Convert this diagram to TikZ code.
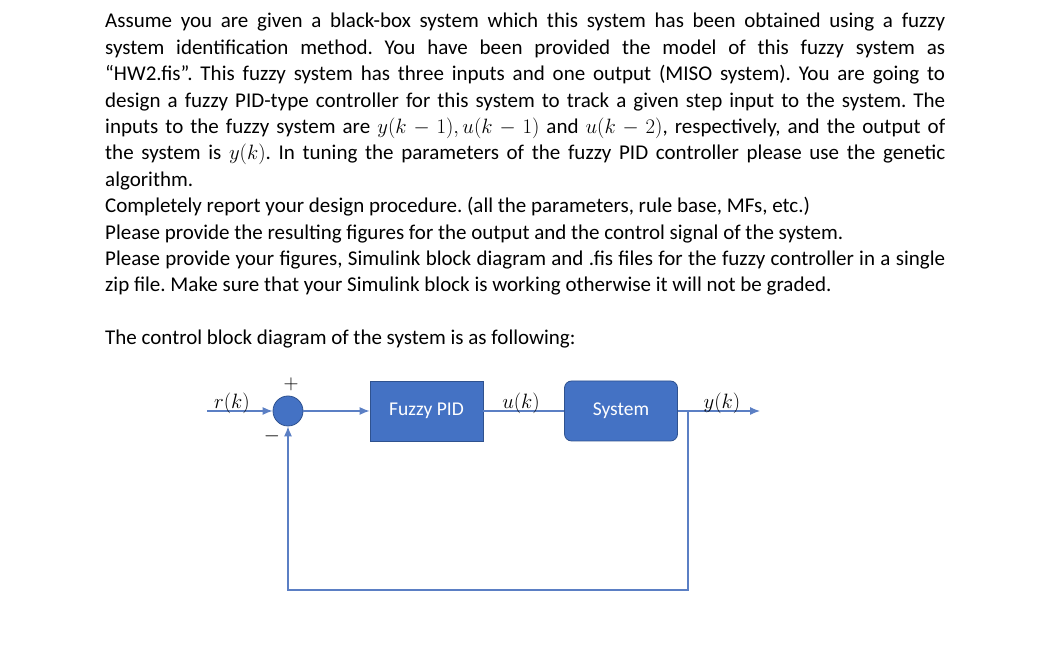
\documentclass[tikz,border=0pt]{standalone}
\usepackage{fontspec}
\setmainfont{Carlito}
\usetikzlibrary{arrows.meta}
\definecolor{bfill}{HTML}{4472C4}
\definecolor{bdraw}{HTML}{2F528F}
\definecolor{wire}{HTML}{5B7FC4}
\frenchspacing
\begin{document}
\begin{tikzpicture}[x=1pt,y=1pt,
  txt/.style={anchor=base west,inner sep=0pt,font=\fontsize{21}{26.4}\selectfont},
  blk/.style={draw=bdraw,fill=bfill,text=white,minimum width=113pt,minimum height=60pt,font=\fontsize{19.5}{20}\selectfont,line width=0.8pt},
  wr/.style={draw=wire,line width=1.2pt},
  arr/.style={wr,-{Latex[length=10pt,width=8pt]}},
  lbl/.style={font=\fontsize{21}{22}\selectfont,inner sep=1pt}]
\useasboundingbox (0,0) rectangle (1049,671);
\def\W{840pt}
\node[txt] (l1) at (105,643) {\makebox[\W][s]{Assume you are given a black-box system which this system has been obtained using a fuzzy}};
\node[txt] (l2) at (105,616.6) {\makebox[\W][s]{system identification method. You have been provided the model of this fuzzy system as}};
\node[txt] (l3) at (105,590.2) {\makebox[\W][s]{“HW2.fis”. This fuzzy system has three inputs and one output (MISO system). You are going to}};
\node[txt] (l4) at (105,563.8) {\makebox[\W][s]{design a fuzzy PID-type controller for this system to track a given step input to the system. The}};
\node[txt] (l5) at (105,537.4) {\makebox[\W][s]{inputs to the fuzzy system are $y(k-1), u(k-1)$ and $u(k-2)$, respectively, and the output of}};
\node[txt] (l6) at (105,511) {\makebox[\W][s]{the system is $y(k)$. In tuning the parameters of the fuzzy PID controller please use the genetic}};
\node[txt] (l7) at (105,484.6) {algorithm.};
\node[txt] (l8) at (105,458.2) {Completely report your design procedure. (all the parameters, rule base, MFs, etc.)};
\node[txt] (l9) at (105,431.8) {Please provide the resulting figures for the output and the control signal of the system.};
\node[txt] (l10) at (105,405.4) {\makebox[\W][s]{Please provide your figures, Simulink block diagram and .fis files for the fuzzy controller in a single}};
\node[txt] (l11) at (105,379) {zip file. Make sure that your Simulink block is working otherwise it will not be graded.};
\node[txt] (l12) at (105,326.2) {The control block diagram of the system is as following:};

\node[circle,draw=bdraw,fill=bfill,minimum size=30pt,inner sep=0pt,line width=0.8pt] (sum) at (288,260) {};
\node[blk] (pid) at (426.5,260) {Fuzzy PID};
\node[blk,rounded corners=7pt] (sys) at (621,260) {System};
\coordinate (rin) at (207,260);
\coordinate (yout) at (760,260);
\coordinate (tap) at (688,260);
\coordinate (bl) at (288,81);
\coordinate (br) at (688,81);
\draw[arr] (rin) -- (sum.west);
\draw[arr] (sum.east) -- (pid.west);
\draw[wr] (pid.east) -- (sys.west);
\draw[arr] (sys.east) -- (yout);
\draw[arr] (tap) -- (br) -- (bl) -- (sum.south);
\node[lbl,anchor=south] (rl) at (232,256) {$r(k)$};
\node[lbl,anchor=south] (ul) at (521,256) {$u(k)$};
\node[lbl,anchor=south] (yl) at (722,256) {$y(k)$};
\node[lbl] (plus) at (291,287) {$+$};
\node[lbl] (minus) at (272,235) {$-$};
\end{tikzpicture}
\end{document}
